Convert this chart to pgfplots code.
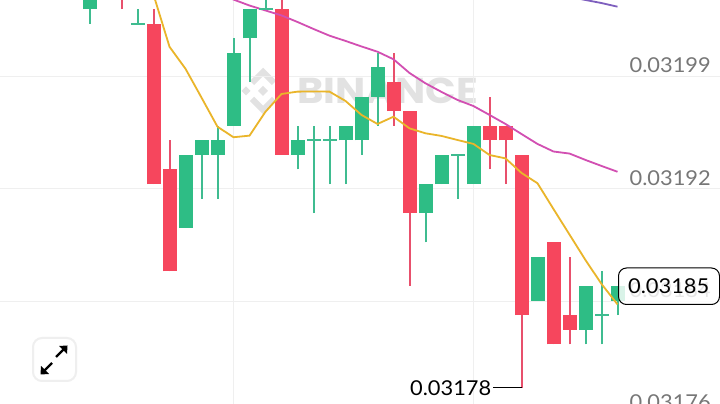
\documentclass[border=0pt]{standalone}
\usepackage{pgfplots}
\pgfplotsset{compat=1.18}
\usepackage{pgfplotstable}
\usepackage{fontspec}
\setmainfont{Lato}[FakeStretch=1.065]
\newfontfamily\wmfont{Poppins}[FakeStretch=1.115]
\definecolor{bullbody}{HTML}{2EBD85}
\definecolor{bearbody}{HTML}{F6465D}
\definecolor{bullwick}{HTML}{3FBC90}
\definecolor{bearwick}{HTML}{E8506C}
\definecolor{ma1}{HTML}{EAB52A}
\definecolor{ma2}{HTML}{D24FB2}
\definecolor{ma3}{HTML}{7E5FBE}
\definecolor{gridc}{HTML}{EFEFEF}
\definecolor{wm}{HTML}{E2E2E2}
\definecolor{labc}{HTML}{777777}
% k open close low high  (body = lo..hi)
\pgfplotstableread{
k lo hi low high
0 0.03204 0.03207 0.03203 0.03207
6 0.03189 0.03194 0.03189 0.03194
7 0.03194 0.03195 0.03191 0.03195
8 0.03194 0.03195 0.03191 0.03196
9 0.03196 0.03201 0.03196 0.03202
10 0.03202 0.03204 0.03199 0.03204
13 0.03194 0.03195 0.03193 0.03196
16 0.03195 0.03196 0.03192 0.03196
17 0.03195 0.03198 0.03194 0.03198
18 0.03198 0.03200 0.03196 0.03201
21 0.03190 0.03192 0.03188 0.03192
22 0.03192 0.03194 0.03192 0.03194
24 0.03192 0.03196 0.03192 0.03196
28 0.03184 0.03187 0.03184 0.03187
31 0.03182 0.03185 0.03181 0.03185
33 0.03184 0.03185 0.03183 0.03185
}\upcandles
\pgfplotstableread{
k lo hi low high
2 0.03207 0.03208 0.03204 0.03208
4 0.03192 0.03203 0.03192 0.03204
5 0.03186 0.03193 0.03186 0.03195
12 0.03194 0.03204 0.03194 0.03206
19 0.03197 0.03199 0.03196 0.03201
20 0.03190 0.03197 0.03185 0.03197
25 0.03195 0.03196 0.03193 0.03198
26 0.03195 0.03196 0.03192 0.03196
27 0.03183 0.03194 0.03178 0.03194
29 0.03181 0.03188 0.03181 0.03188
30 0.03182 0.03183 0.03181 0.03187
}\dncandles
\pgfplotstableread{
k price low high
3 0.03203 0.03203 0.03204
11 0.03204 0.03204 0.03206
14 0.03195 0.03190 0.03196
15 0.03195 0.03192 0.03196
23 0.03194 0.03191 0.03194
32 0.03183 0.03181 0.03186
}\dojis
\pgfplotstableread{
k v
4 0.0320500
5 0.0320142
6 0.0319991
7 0.0319793
8 0.0319593
9 0.0319521
10 0.0319532
11 0.0319696
12 0.0319818
13 0.0319834
14 0.0319835
15 0.0319834
16 0.0319770
17 0.0319674
18 0.0319612
19 0.0319662
20 0.0319582
21 0.0319548
22 0.0319530
23 0.0319502
24 0.0319475
25 0.0319399
26 0.0319376
27 0.0319276
28 0.0319205
29 0.0319028
30 0.0318853
31 0.0318678
32 0.0318514
33 0.0318374
}\maone
\pgfplotstableread{
k v
8 0.0320518
9 0.0320466
10 0.0320425
11 0.0320391
12 0.0320357
13 0.0320312
14 0.0320264
15 0.0320218
16 0.0320182
17 0.0320144
18 0.0320108
19 0.0320056
20 0.0319962
21 0.0319891
22 0.0319832
23 0.0319777
24 0.0319735
25 0.0319674
26 0.0319612
27 0.0319543
28 0.0319475
29 0.0319423
30 0.0319409
31 0.0319365
32 0.0319324
33 0.0319284
}\matwo
\pgfplotstableread{
k v
30 0.0320484
31 0.0320463
32 0.0320442
33 0.0320417
}\mathree
\begin{document}
\begin{tikzpicture}[x=1pt,y=1pt]
\useasboundingbox (0,0) rectangle (720,404);
\clip (0,0) rectangle (720,404);
\fill[white] (0,0) rectangle (720,404);
% watermark
\begin{scope}[wm]
\draw[line width=6pt,miter limit=10] (252,321) -- (263,332) -- (274,321);
\draw[line width=6pt,miter limit=10] (252,305) -- (263,294) -- (274,305);
\fill (246,317.5) -- (250.5,313) -- (246,308.5) -- (241.5,313) -- cycle;
\fill (280,317.5) -- (284.5,313) -- (280,308.5) -- (275.5,313) -- cycle;
\fill (263,318) -- (268,313) -- (263,308) -- (258,313) -- cycle;
\node[anchor=west,inner sep=0pt,font=\wmfont\fontsize{36}{36}\selectfont\bfseries,text=wm] at (297,313) {BINANCE};
\end{scope}
\begin{axis}[
  at={(0pt,-20pt)},anchor=south west,
  width=720pt,height=424pt,scale only axis,
  xmin=-5.59375,xmax=39.40625,
  ymin=0.031755284,ymax=0.032046294,
  axis line style={draw=none},
  major tick length=0pt,
  xtick={9,24},xticklabels={},
  ytick={0.0317628,0.0318397,0.0319169,0.0319941},
  yticklabels={0.03176,0.03184,0.03192,0.03199},
  scaled y ticks=false,
  yticklabel pos=right,
  yticklabel style={anchor=east,inner sep=0pt,xshift=-9pt,yshift=10.5pt,font=\fontsize{20.5}{20.5}\selectfont,text=labc},
  grid=major,grid style={gridc,line width=1pt},
  clip=true,
]
% wicks
\addplot[draw=none,forget plot,error bars/.cd,y dir=plus,y explicit,error mark=none,error bar style={color=bullwick,line width=2pt}]
  table[x=k,y=low,y error expr=\thisrow{high}-\thisrow{low}] {\upcandles};
\addplot[draw=none,forget plot,error bars/.cd,y dir=plus,y explicit,error mark=none,error bar style={color=bullwick,line width=2pt}]
  table[x=k,y=low,y error expr=\thisrow{high}-\thisrow{low}] {\dojis};
\addplot[draw=none,forget plot,error bars/.cd,y dir=plus,y explicit,error mark=none,error bar style={color=bearwick,line width=2pt}]
  table[x=k,y=low,y error expr=\thisrow{high}-\thisrow{low}] {\dncandles};
% bodies
\addplot[draw=none,forget plot,error bars/.cd,y dir=plus,y explicit,error mark=none,error bar style={color=bullbody,line width=14pt}]
  table[x=k,y=lo,y error expr=\thisrow{hi}-\thisrow{lo}] {\upcandles};
\addplot[draw=none,forget plot,error bars/.cd,y dir=plus,y explicit,error mark=none,error bar style={color=bearbody,line width=14pt}]
  table[x=k,y=lo,y error expr=\thisrow{hi}-\thisrow{lo}] {\dncandles};
\addplot[only marks,mark=-,mark size=7pt,mark options={color=bullwick,line width=2pt}] table[x=k,y=price] {\dojis};
% moving averages
\addplot[ma3,line width=1.8pt] table[x=k,y=v] {\mathree};
\addplot[ma2,line width=1.8pt] table[x=k,y=v] {\matwo};
\addplot[ma1,line width=1.8pt] table[x=k,y=v] {\maone};
\end{axis}
% low label and leader
\draw[black,line width=1pt] (493,16) -- (522,16);
\node[anchor=east,inner sep=0pt,font=\fontsize{20.5}{20.5}\selectfont,text=black] at (491.5,16) {0.03178};
% current price
\draw[black,line width=1pt,fill=white,fill opacity=0.82,rounded corners=8pt] (618.5,99.5) rectangle (719.5,136);
\node[anchor=east,inner sep=0pt,font=\fontsize{20.5}{20.5}\selectfont,text=black] at (709.5,117.5) {0.03185};
% expand button
\draw[gridc,line width=2pt,fill=white,rounded corners=9pt] (33,23) rectangle (76,66);
\begin{scope}[black,line width=2.2pt]
\draw (56,47) -- (65,56);
\draw (52,41) -- (43,32);
\fill (67.5,58.5) -- (59,58) -- (67,50) -- cycle;
\fill (40.5,29.5) -- (49,30) -- (41,38) -- cycle;
\end{scope}
\end{tikzpicture}
\end{document}
